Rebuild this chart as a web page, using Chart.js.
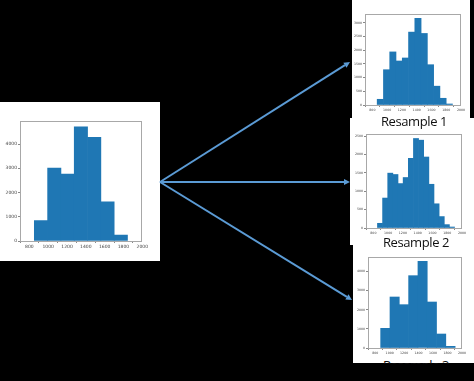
<!DOCTYPE html>
<html><head><meta charset="utf-8">
<script src="https://cdn.jsdelivr.net/npm/chart.js@4.4.1/dist/chart.umd.min.js"></script>
<style>
html,body{margin:0;padding:0;background:#000;width:474px;height:381px;overflow:hidden;}
.pnl{position:absolute;background:#fff;}
.cv{position:absolute;}
.lbl{position:absolute;font-family:"Open Sans",sans-serif;font-size:13px;letter-spacing:-0.4px;color:#111;text-align:center;white-space:nowrap;line-height:18px;}
#arrows{position:absolute;left:0;top:0;}
</style></head><body>
<div class="pnl" style="left:0;top:102px;width:160px;height:159px"></div>
<div class="pnl" style="left:352px;top:0;width:118px;height:130px"></div>
<div class="pnl" style="left:350px;top:118px;width:124px;height:127px"></div>
<div class="pnl" style="left:353px;top:240px;width:121px;height:123px"></div>
<div class="cv" style="left:0;top:116px;width:149px;height:137px"><canvas id="cMain"></canvas></div>
<div class="cv" style="left:351px;top:9px;width:115px;height:104px"><canvas id="cR1"></canvas></div>
<div class="cv" style="left:352px;top:129px;width:115px;height:107px"><canvas id="cR2"></canvas></div>
<div class="cv" style="left:354px;top:252px;width:113px;height:104px"><canvas id="cR3"></canvas></div>
<div class="lbl" style="left:354px;width:120px;top:112px">Resample 1</div>
<div class="lbl" style="left:356px;width:120px;top:233px">Resample 2</div>
<div class="lbl" style="left:356px;width:120px;top:356px">Resample 3</div>
<div style="position:absolute;left:340px;top:364px;width:134px;height:17px;background:#000"></div>
<canvas id="arrows" width="474" height="381"></canvas>
<script>
// ---- data ----
const xTickLabels = [800, 1000, 1200, 1400, 1600, 1800, 2000];

const mainEdges  = [852, 994, 1135, 1277, 1418, 1560, 1701, 1843];
const mainCounts = [841, 3007, 2759, 4717, 4276, 1614, 248];
const mainYTicks = [0, 1000, 2000, 3000, 4000];

const r1Edges  = [865, 950, 1035, 1120, 1205, 1290, 1375, 1460, 1545, 1630, 1715, 1800, 1885];
const r1Counts = [208, 1286, 1935, 1604, 1714, 2657, 3159, 2608, 1469, 686, 245, 37];
const r1YTicks = [0, 500, 1000, 1500, 2000, 2500, 3000];

const r2Edges  = [855, 925, 994, 1064, 1134, 1203, 1273, 1343, 1412, 1482, 1552, 1621, 1691, 1761, 1830, 1900];
const r2Counts = [128, 815, 1493, 1456, 1209, 1374, 1896, 2436, 2390, 1932, 1190, 659, 311, 92, 27];
const r2YTicks = [0, 500, 1000, 1500, 2000, 2500];

const r3Edges  = [875, 1004, 1133, 1262, 1391, 1520, 1648, 1777, 1906];
const r3Counts = [1026, 2661, 2261, 3774, 4522, 2400, 730, 87];
const r3YTicks = [0, 1000, 2000, 3000, 4000];

const barColor = '#1f77b4';

const frame = {
  id: 'frame',
  afterDraw(chart) {
    const {ctx, chartArea: a} = chart;
    ctx.save();
    ctx.strokeStyle = '#a8a8a8';
    ctx.lineWidth = 1;
    ctx.strokeRect(Math.round(a.left) + 0.5, Math.round(a.top) + 0.5,
                   Math.round(a.right - a.left) - 1, Math.round(a.bottom - a.top));
    ctx.restore();
  }
};

function hist(id, edges, counts, yTicks, yMax, fontSize, yW, xH) {
  const data = counts.map((c, i) => ({x: (edges[i] + edges[i + 1]) / 2, y: c}));
  const fmt = v => String(v);
  new Chart(document.getElementById(id), {
    type: 'bar',
    data: {datasets: [{data, backgroundColor: barColor, borderWidth: 0,
                       barPercentage: 1, categoryPercentage: 1}]},
    options: {
      responsive: true, maintainAspectRatio: false, animation: false,
      layout: {padding: {top: 5, right: 5, left: 0, bottom: 0}},
      plugins: {legend: {display: false}, tooltip: {enabled: false}},
      scales: {
        x: {
          type: 'linear', min: 700, max: 2000, offset: false,
          afterBuildTicks: s => { s.ticks = xTickLabels.map(v => ({value: v})); },
          afterFit: s => { s.height = xH; },
          grid: {display: true, drawOnChartArea: false, tickLength: 2, color: '#888'},
          border: {display: false},
          ticks: {autoSkip: false, maxRotation: 0, padding: 1, color: '#444', callback: fmt,
                  font: {size: fontSize, family: 'DejaVu Sans'}}
        },
        y: {
          min: 0, max: yMax,
          afterBuildTicks: s => { s.ticks = yTicks.map(v => ({value: v})); },
          afterFit: s => { s.width = yW; },
          grid: {display: true, drawOnChartArea: false, tickLength: 2, color: '#888'},
          border: {display: false},
          ticks: {padding: 1, color: '#444', callback: fmt,
                  font: {size: fontSize, family: 'DejaVu Sans'}}
        }
      }
    },
    plugins: [frame]
  });
}

hist('cMain', mainEdges, mainCounts, mainYTicks, 4953, 4.5, 20, 12);
hist('cR1', r1Edges, r1Counts, r1YTicks, 3317, 3.2, 14, 8);
hist('cR2', r2Edges, r2Counts, r2YTicks, 2558, 3.2, 14, 8);
hist('cR3', r3Edges, r3Counts, r3YTicks, 4748, 3.2, 14, 8);

// ---- decorative arrows ----
(function () {
  const ctx = document.getElementById('arrows').getContext('2d');
  const color = '#5b9bd5';
  const start = [160, 182];
  const ends = [[350, 62], [350, 182], [352, 300]];
  ctx.strokeStyle = color; ctx.fillStyle = color; ctx.lineWidth = 2;
  ends.forEach(([ex, ey]) => {
    const ang = Math.atan2(ey - start[1], ex - start[0]);
    const hl = 6, hw = 3;
    const bx = ex - hl * Math.cos(ang), by = ey - hl * Math.sin(ang);
    ctx.beginPath(); ctx.moveTo(start[0], start[1]); ctx.lineTo(bx, by); ctx.stroke();
    ctx.beginPath();
    ctx.moveTo(ex, ey);
    ctx.lineTo(bx + hw * Math.sin(ang), by - hw * Math.cos(ang));
    ctx.lineTo(bx - hw * Math.sin(ang), by + hw * Math.cos(ang));
    ctx.closePath(); ctx.fill();
  });
})();
</script>
</body></html>
